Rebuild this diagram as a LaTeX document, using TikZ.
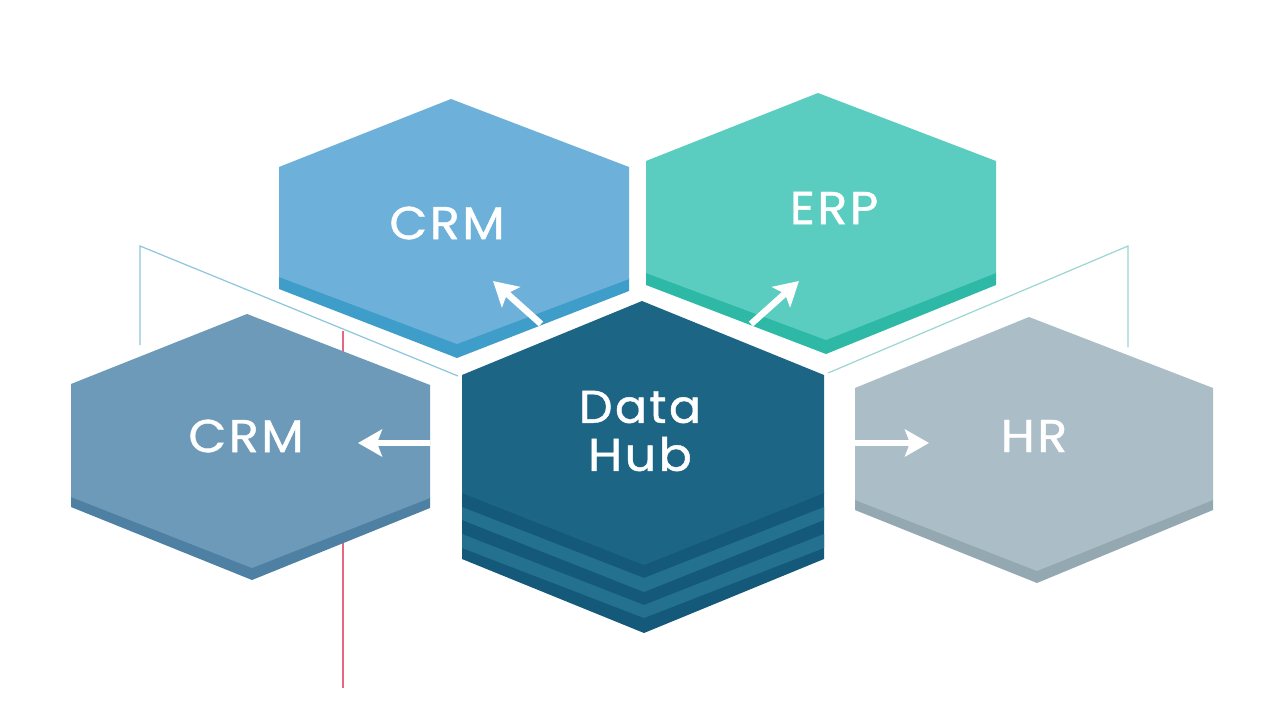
\documentclass[tikz,border=0pt]{standalone}
\usepackage{fontspec}
\usepackage{graphicx}
\setmainfont{Poppins}[LetterSpace=5,FakeBold=0.9]
\usetikzlibrary{arrows.meta}
\definecolor{crmtop}{HTML}{6DB1DA}\definecolor{crmband}{HTML}{3F9DC9}
\definecolor{erptop}{HTML}{5ACDC0}\definecolor{erpband}{HTML}{2DB9A6}
\definecolor{lefttop}{HTML}{6E9AB9}\definecolor{leftband}{HTML}{4D80A3}
\definecolor{hrtop}{HTML}{ABBDC7}\definecolor{hrband}{HTML}{94A8B2}
\definecolor{hubtop}{HTML}{1D6585}\definecolor{hubdark}{HTML}{14597A}\definecolor{hublight}{HTML}{24708F}
\definecolor{bluewire}{HTML}{8CC6DC}\definecolor{tealwire}{HTML}{9AD6D2}\definecolor{redwire}{HTML}{E2697F}
\newcommand{\widelabel}[1]{\scalebox{1.07}[1]{#1}}
\tikzset{
  hexlabel/.style={text=white,font=\fontsize{46}{46}\selectfont,inner sep=0pt,align=center},
  flow/.style={draw=white,line width=6.5pt,-{Stealth[length=24pt,width=27pt,inset=5pt]}},
  wire/.style={line width=1.2pt},
}
\begin{document}
\begin{tikzpicture}[x=1pt,y=-1pt]
\useasboundingbox (0,0) rectangle (1280,720);
\fill[white] (0,0) rectangle (1280,720);
% thin lines behind the hexagons
\coordinate (wireLa) at (140,345);\coordinate (wireLb) at (140,246);\coordinate (wireLc) at (458,376);
\coordinate (wireRa) at (1128,347);\coordinate (wireRb) at (1128,246);\coordinate (wireRc) at (828,373);
\coordinate (redA) at (343,331);\coordinate (redB) at (343,688);
\draw[wire,bluewire] (wireLa) -- (wireLb) -- (wireLc);
\draw[wire,tealwire] (wireRa) -- (wireRb) -- (wireRc);
\draw[wire,redwire] (redA) -- (redB);
% CRM blue
\fill[crmband] (279,276) -- (279,289) -- (457,358) -- (629,291) -- (629,278) -- (457,343) -- cycle;
\fill[crmtop] (451,99) -- (629,167) -- (629,279) -- (457,344) -- (279,277) -- (279,167) -- cycle;
% ERP
\fill[erpband] (646,272) -- (646,285) -- (826,354) -- (996,285) -- (996,272) -- (826,339) -- cycle;
\fill[erptop] (818,93) -- (996,161) -- (996,273) -- (826,340) -- (646,273) -- (646,161) -- cycle;
% left CRM
\fill[leftband] (71,496) -- (71,507) -- (252,580) -- (430,508) -- (430,497) -- (252,567) -- cycle;
\fill[lefttop] (247,314) -- (430,385) -- (430,498) -- (252,568) -- (71,497) -- (71,384) -- cycle;
% HR
\fill[hrband] (855,499) -- (855,510) -- (1037,583) -- (1213,510) -- (1213,499) -- (1037,570) -- cycle;
\fill[hrtop] (1029,317) -- (1213,388) -- (1213,500) -- (1037,571) -- (855,500) -- (855,388) -- cycle;
% hub
\fill[hubdark] (462,492) -- (462,559) -- (644,633) -- (824,559) -- (824,492) -- (644,564) -- cycle;
\fill[hublight] (462,507) -- (462,520) -- (644,592) -- (824,520) -- (824,507) -- (644,578) -- cycle;
\fill[hublight] (462,534) -- (462,548) -- (644,618) -- (824,548) -- (824,534) -- (644,605) -- cycle;
\fill[hubtop] (642,301) -- (824,375) -- (824,493) -- (644,565) -- (462,493) -- (462,375) -- cycle;
% labels
\node[hexlabel] (crmA) at (447,223) {\widelabel{CRM}};
\node[hexlabel] (erp) at (834,208) {\widelabel{ERP}};
\node[hexlabel] (crmB) at (246,436) {\widelabel{CRM}};
\node[hexlabel] (hr) at (1034,436) {\widelabel{HR}};
\node[hexlabel] (data) at (640,407) {\scalebox{1.03}[1]{Data}};
\node[hexlabel] (hub) at (640,454) {\widelabel{Hub}};
% arrows
\coordinate (outA) at (541,324);\coordinate (tipA) at (493,281);
\coordinate (outB) at (751,324);\coordinate (tipB) at (799,281);
\coordinate (outC) at (430,443);\coordinate (tipC) at (358,443);
\coordinate (outD) at (855,443);\coordinate (tipD) at (929,443);
\draw[flow] (outA) -- (tipA);
\draw[flow] (outB) -- (tipB);
\draw[flow] (outC) -- (tipC);
\draw[flow] (outD) -- (tipD);
\end{tikzpicture}
\end{document}
